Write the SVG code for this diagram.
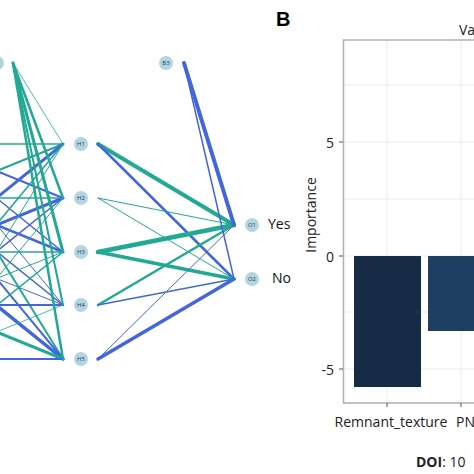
<svg xmlns="http://www.w3.org/2000/svg" width="474" height="474" viewBox="0 0 474 474">
<style>
.t{stroke:#22a994;fill:none;stroke-linecap:round}
.b{stroke:#4466dd;fill:none;stroke-linecap:round}
.node circle{fill:#b3d5e2}
.node text{font-family:"Open Sans","Liberation Sans",sans-serif;font-size:6px;fill:#2f3f50;text-anchor:middle}
.lbl{font-family:"Open Sans","Liberation Sans",sans-serif;font-size:14px;fill:#111}
.ax{font-family:"Open Sans","Liberation Sans",sans-serif;font-size:14px;fill:#222}
.grid{stroke:#ebebeb;stroke-width:1}
</style>
<rect width="474" height="474" fill="#ffffff"/>
<g id="connectors">
<line class="t" x1="-70" y1="144" x2="63" y2="144" stroke-width="1.5"/>
<line class="b" x1="-70" y1="144" x2="63" y2="198" stroke-width="2"/>
<line class="b" x1="-70" y1="144" x2="63" y2="252" stroke-width="1.5"/>
<line class="b" x1="-70" y1="144" x2="63" y2="305" stroke-width="1"/>
<line class="t" x1="-70" y1="144" x2="63" y2="359" stroke-width="2"/>
<line class="t" x1="-70" y1="198" x2="63" y2="144" stroke-width="2"/>
<line class="t" x1="-70" y1="198" x2="63" y2="198" stroke-width="1.5"/>
<line class="b" x1="-70" y1="198" x2="63" y2="252" stroke-width="2.5"/>
<line class="b" x1="-70" y1="198" x2="63" y2="305" stroke-width="1.5"/>
<line class="b" x1="-70" y1="198" x2="63" y2="359" stroke-width="2"/>
<line class="b" x1="-70" y1="252" x2="63" y2="144" stroke-width="3"/>
<line class="b" x1="-70" y1="252" x2="63" y2="198" stroke-width="3"/>
<line class="t" x1="-70" y1="252" x2="63" y2="252" stroke-width="1.5"/>
<line class="b" x1="-70" y1="252" x2="63" y2="305" stroke-width="1"/>
<line class="b" x1="-70" y1="252" x2="63" y2="359" stroke-width="3.5"/>
<line class="t" x1="-70" y1="305" x2="63" y2="144" stroke-width="1.5"/>
<line class="b" x1="-70" y1="305" x2="63" y2="198" stroke-width="1.5"/>
<line class="t" x1="-70" y1="305" x2="63" y2="252" stroke-width="1"/>
<line class="b" x1="-70" y1="305" x2="63" y2="305" stroke-width="2"/>
<line class="t" x1="-70" y1="305" x2="63" y2="359" stroke-width="3"/>
<line class="t" x1="-70" y1="359" x2="63" y2="144" stroke-width="1"/>
<line class="t" x1="-70" y1="359" x2="63" y2="198" stroke-width="1"/>
<line class="t" x1="-70" y1="359" x2="63" y2="252" stroke-width="1.5"/>
<line class="t" x1="-70" y1="359" x2="63" y2="305" stroke-width="0.8"/>
<line class="b" x1="-70" y1="359" x2="63" y2="359" stroke-width="2"/>
<line class="t" x1="13" y1="63" x2="63" y2="144" stroke-width="0.8"/>
<line class="t" x1="13" y1="63" x2="63" y2="198" stroke-width="2.5"/>
<line class="t" x1="13" y1="63" x2="63" y2="252" stroke-width="3"/>
<line class="b" x1="13" y1="63" x2="63" y2="305" stroke-width="0.8"/>
<line class="t" x1="13" y1="63" x2="63" y2="305" stroke-width="2"/>
<line class="t" x1="13" y1="63" x2="63" y2="359" stroke-width="2.5"/>
<line class="t" x1="98" y1="144" x2="234" y2="225" stroke-width="4"/>
<line class="b" x1="98" y1="144" x2="234" y2="279" stroke-width="2.5"/>
<line class="t" x1="98" y1="198" x2="234" y2="225" stroke-width="1"/>
<line class="t" x1="98" y1="198" x2="234" y2="279" stroke-width="1"/>
<line class="t" x1="98" y1="252" x2="234" y2="225" stroke-width="4.5"/>
<line class="t" x1="98" y1="252" x2="234" y2="279" stroke-width="3.5"/>
<line class="t" x1="98" y1="305" x2="234" y2="225" stroke-width="2.5"/>
<line class="b" x1="98" y1="305" x2="234" y2="279" stroke-width="1.5"/>
<line class="b" x1="98" y1="359" x2="234" y2="225" stroke-width="1"/>
<line class="b" x1="98" y1="359" x2="234" y2="279" stroke-width="3.5"/>
<line class="b" x1="184" y1="63" x2="234" y2="225" stroke-width="4"/>
<line class="b" x1="184" y1="63" x2="234" y2="279" stroke-width="1.5"/>
</g>
<g id="B1" class="node"><circle cx="-3" cy="63" r="7"/></g>
<g id="H1" class="node"><circle cx="81" cy="144" r="7"/><text x="81" y="146">H1</text></g>
<g id="H2" class="node"><circle cx="81" cy="198" r="7"/><text x="81" y="200">H2</text></g>
<g id="H3" class="node"><circle cx="81" cy="252" r="7"/><text x="81" y="254">H3</text></g>
<g id="H4" class="node"><circle cx="81" cy="305" r="7"/><text x="81" y="307">H4</text></g>
<g id="H5" class="node"><circle cx="81" cy="359" r="7"/><text x="81" y="361">H5</text></g>
<g id="B3" class="node"><circle cx="166" cy="63" r="7"/><text x="166" y="65">B3</text></g>
<g id="O1" class="node"><circle cx="252" cy="225" r="7"/><text x="252" y="227">O1</text></g>
<g id="O2" class="node"><circle cx="252" cy="279" r="7"/><text x="252" y="281">O2</text></g>
<text class="lbl" x="268" y="229">Yes</text>
<text class="lbl" x="272" y="283">No</text>
<g id="panelB">
<text x="276" y="26" font-family="'Liberation Sans',Arial,sans-serif" font-size="20" font-weight="bold" fill="#000">B</text>
<text class="ax" x="459" y="35" fill="#111">Va</text>
<line class="grid" x1="343" y1="85" x2="474" y2="85"/>
<line class="grid" x1="343" y1="199" x2="474" y2="199"/>
<line class="grid" x1="343" y1="312" x2="474" y2="312"/>
<line class="grid" x1="343" y1="142" x2="474" y2="142"/>
<line class="grid" x1="343" y1="256" x2="474" y2="256"/>
<line class="grid" x1="343" y1="369" x2="474" y2="369"/>
<line class="grid" x1="387" y1="40" x2="387" y2="403"/>
<line class="grid" x1="461" y1="40" x2="461" y2="403"/>
<rect x="354" y="256" width="67" height="131" fill="#162b45"/>
<rect x="428" y="256" width="60" height="75" fill="#1d3f62"/>
<path d="M474 40H343.5V403H474" fill="none" stroke="#b0b0b0" stroke-width="1.5"/>
<g stroke="#555" stroke-width="1">
<line x1="339" y1="142" x2="343" y2="142"/>
<line x1="339" y1="256" x2="343" y2="256"/>
<line x1="339" y1="369" x2="343" y2="369"/>
<line x1="387" y1="403" x2="387" y2="407"/>
<line x1="461" y1="403" x2="461" y2="407"/>
</g>
<text class="ax" x="334" y="148" text-anchor="end">5</text>
<text class="ax" x="334" y="262" text-anchor="end">0</text>
<text class="ax" x="334" y="375" text-anchor="end">-5</text>
<text class="ax" x="316" y="215" text-anchor="middle" transform="rotate(-90 316 215)">Importance</text>
<text class="ax" x="391" y="427" text-anchor="middle">Remnant_texture</text>
<text class="ax" x="456" y="427">PN</text>
<text class="ax" x="416" y="467"><tspan font-weight="bold">DOI</tspan>: 10</text>
</g>
</svg>
